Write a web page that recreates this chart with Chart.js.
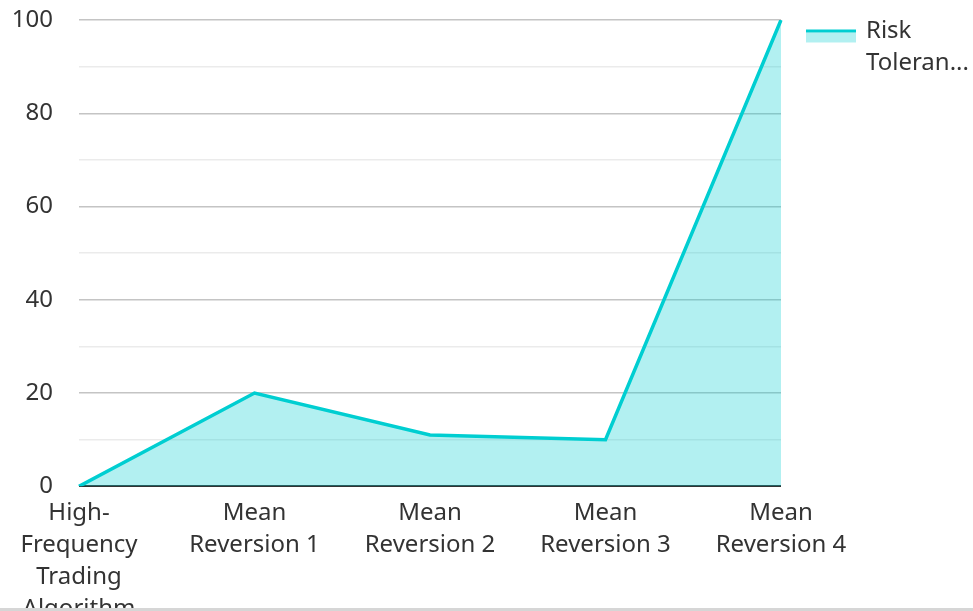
<!DOCTYPE html>
<html>
<head>
<meta charset="utf-8">
<script src="https://cdn.jsdelivr.net/npm/chart.js@4"></script>
<style>
  html, body { margin: 0; padding: 0; background: #fff; }
  #frame { width: 973px; height: 608px; overflow: hidden; position: relative; }
  #box { width: 973px; height: 636px; position: relative; }
  #rule { width: 973px; height: 3px; background: #d6d6d6; }
</style>
</head>
<body>
<div id="frame"><div id="box"><canvas id="c"></canvas></div></div>
<div id="rule"></div>
<script>
// Strategies on the x axis and their risk tolerance values
const categories = [
  "High-Frequency Trading Algorithm",
  "Mean Reversion 1",
  "Mean Reversion 2",
  "Mean Reversion 3",
  "Mean Reversion 4"
];
const seriesName = "Risk Tolerance";
const riskTolerance = [0, 20, 11, 10, 100];
const yLabelTicks = [0, 20, 40, 60, 80, 100];

const LINE_COLOR = "rgb(0, 206, 209)";
const FILL_COLOR = "rgba(0, 206, 209, 0.3)";
const TEXT_COLOR = "#333333";
const FONT_FAMILY = "'Noto Sans', 'Open Sans', sans-serif";
const FONT_SIZE = 24;

// Break a category name into short lines (words, and after hyphens)
function wrapLabel(text, maxChars) {
  const tokens = [];
  text.split(" ").forEach(word => {
    const parts = word.split(/(?<=-)/);
    parts.forEach((p, i) => tokens.push({ text: p, glue: i > 0 ? "" : " " }));
  });
  const lines = [];
  let cur = "";
  tokens.forEach(t => {
    if (!cur) { cur = t.text; return; }
    const candidate = cur + t.glue + t.text;
    if (candidate.length <= maxChars) cur = candidate;
    else { lines.push(cur); cur = t.text; }
  });
  if (cur) lines.push(cur);
  return lines;
}

// Legend drawn at the right, wrapping and ellipsizing to the space left
const sideLegend = {
  id: "sideLegend",
  afterDraw(chart) {
    const ctx = chart.ctx;
    const boxX = 806, boxW = 50, lineY = 31;
    const textX = 866, maxW = chart.width - textX;
    ctx.save();
    ctx.fillStyle = FILL_COLOR;
    ctx.fillRect(boxX, lineY + 1.5, boxW, 10);
    ctx.strokeStyle = LINE_COLOR;
    ctx.lineWidth = 3;
    ctx.beginPath();
    ctx.moveTo(boxX, lineY);
    ctx.lineTo(boxX + boxW, lineY);
    ctx.stroke();

    ctx.font = FONT_SIZE + "px " + FONT_FAMILY;
    ctx.fillStyle = TEXT_COLOR;
    ctx.textBaseline = "middle";
    ctx.textAlign = "left";
    const words = seriesName.split(" ");
    const lines = [];
    let cur = "";
    words.forEach(w => {
      const cand = cur ? cur + " " + w : w;
      if (ctx.measureText(cand).width <= maxW) cur = cand;
      else { if (cur) lines.push(cur); cur = w; }
    });
    if (cur) lines.push(cur);
    const fitted = lines.map(l => {
      if (ctx.measureText(l).width <= maxW) return l;
      let s = l;
      while (s.length > 1 && ctx.measureText(s + "...").width > maxW) s = s.slice(0, -1);
      return s + "...";
    });
    fitted.forEach((l, i) => ctx.fillText(l, textX, lineY + i * 32));
    ctx.restore();
  }
};

new Chart(document.getElementById("c"), {
  type: "line",
  data: {
    labels: categories.map(c => wrapLabel(c, 11)),
    datasets: [{
      label: seriesName,
      data: riskTolerance,
      borderColor: LINE_COLOR,
      backgroundColor: FILL_COLOR,
      borderWidth: 3.5,
      fill: "origin",
      tension: 0,
      pointRadius: 0,
      pointHoverRadius: 0
    }]
  },
  options: {
    responsive: true,
    maintainAspectRatio: false,
    animation: false,
    layout: { padding: { left: 12, right: 192, top: 20, bottom: 0 } },
    plugins: {
      legend: { display: false },
      tooltip: { enabled: false }
    },
    scales: {
      x: {
        offset: false,
        grid: { display: false, drawTicks: false },
        border: { display: false },
        afterFit: s => { s.paddingLeft = 0; s.paddingRight = 0; },
        ticks: {
          color: TEXT_COLOR,
          padding: 11,
          maxRotation: 0,
          autoSkip: false,
          font: { family: FONT_FAMILY, size: FONT_SIZE, lineHeight: 1.33 }
        }
      },
      y: {
        min: 0,
        max: 100,
        border: { display: false },
        afterFit: s => { s.paddingTop = 0; s.paddingBottom = 0; s.width = 67; },
        grid: {
          drawTicks: false,
          color: ctx => ctx.tick.value === 0 ? "#333333" :
            (yLabelTicks.includes(ctx.tick.value) ? "#c4c4c4" : "#ebebeb"),
          lineWidth: ctx => ctx.tick.value === 0 ? 2 : 1.5
        },
        ticks: {
          stepSize: 10,
          color: TEXT_COLOR,
          padding: 26,
          font: { family: FONT_FAMILY, size: FONT_SIZE, lineHeight: 1.33 },
          callback: v => yLabelTicks.includes(v) ? String(v) : ""
        }
      }
    }
  },
  plugins: [sideLegend]
});
</script>
</body>
</html>
